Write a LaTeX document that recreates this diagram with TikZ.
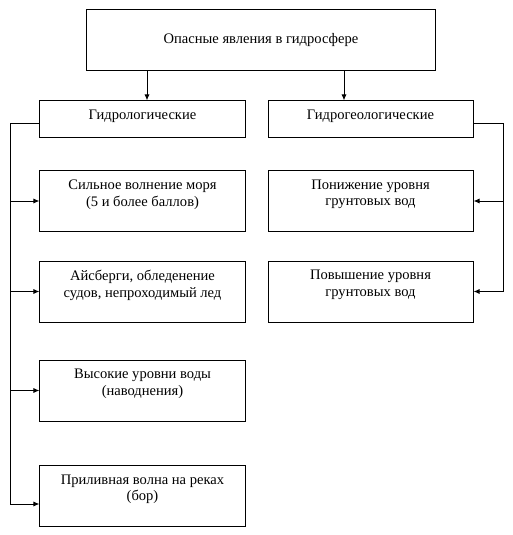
\documentclass[tikz,border=0pt]{standalone}
\usepackage{fontspec}
\setmainfont{Liberation Serif}
\usetikzlibrary{arrows.meta}
\tikzset{
  box/.style={draw, line width=1bp, minimum width=205bp, minimum height=61bp, inner sep=0pt},
  head/.style={box, minimum height=37bp},
  txt/.style={anchor=north, align=center, inner sep=0pt, yshift=-9.5bp, font=\fontsize{14.6}{16.8}\selectfont},
  arr/.style={draw, line width=1bp, -{Latex[length=6bp,width=5bp]}}
}
\begin{document}
\begin{tikzpicture}[x=1bp, y=-1bp]
  \useasboundingbox (0,0) rectangle (513,535);
  % top level
  \node[box, minimum width=348bp, font=\fontsize{14.6}{16.8}\selectfont] (top) at (261,40.5) {Опасные явления в гидросфере};
  \node[head, label={[txt]north:Гидрологические}] (gl) at (142.5,119.5) {};
  \node[head, label={[txt]north:Гидрогеологические}] (gg) at (370.5,119.5) {};
  % left column
  \node[box, label={[txt]north:{Сильное волнение моря\\(5 и более баллов)}}] (b1) at (142.5,201) {};
  \node[box, label={[txt]north:{Айсберги, обледенение\\судов, непроходимый лед}}] (b2) at (142.5,291.5) {};
  \node[box, label={[txt]north:{Высокие уровни воды\\(наводнения)}}] (b3) at (142.5,390.5) {};
  \node[box, label={[txt]north:{Приливная волна на реках\\(бор)}}] (b4) at (142.5,496) {};
  % right column
  \node[box, label={[txt]north:{Понижение уровня\\грунтовых вод}}] (r1) at (370.5,201) {};
  \node[box, label={[txt]north:{Повышение уровня\\грунтовых вод}}] (r2) at (370.5,291.5) {};

  \coordinate (lb) at (10,124);
  \coordinate (a4) at (10,504);
  \coordinate (rb) at (503,124);

  \path[arr] ([xshift=4.5bp]gl.north |- top.south) -- ([xshift=4.5bp]gl.north);
  \path[arr] ([xshift=-26.5bp]gg.north |- top.south) -- ([xshift=-26.5bp]gg.north);

  \path[arr] (gl.west |- lb) -- (lb) |- (a4 -| b4.west);
  \foreach \n in {b1,b2,b3}
    \path[arr] (lb |- \n.west) -- (\n.west);

  \path[arr] (gg.east |- rb) -- (rb) |- (r2.east);
  \path[arr] (rb |- r1.east) -- (r1.east);
\end{tikzpicture}
\end{document}
